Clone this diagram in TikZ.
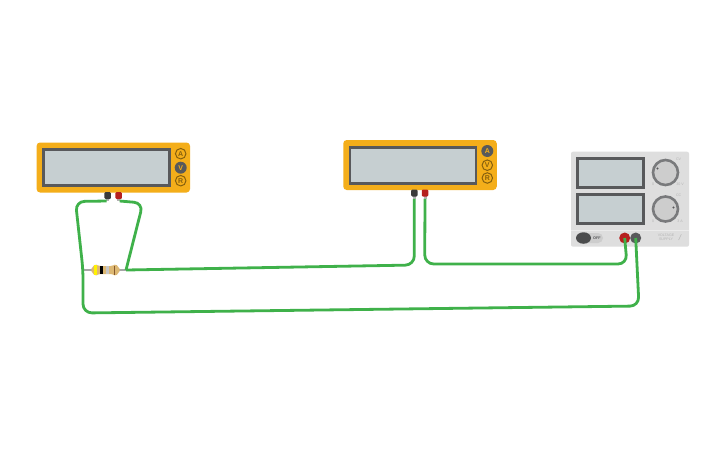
\documentclass[tikz,border=0pt]{standalone}
\usepackage{fontspec}
\usetikzlibrary{shapes.geometric}
\setmainfont{Liberation Sans}
\definecolor{meterbody}{HTML}{F4AE1A}
\definecolor{meterscreen}{HTML}{C6CFD1}
\definecolor{meteredge}{HTML}{58595B}
\definecolor{wiregreen}{HTML}{3FB14A}
\definecolor{probered}{HTML}{B5201E}
\definecolor{probeblack}{HTML}{3A3A3A}
\definecolor{supplybody}{HTML}{DEDEDE}
\definecolor{supplypill}{HTML}{CDCDCD}
\definecolor{supplytext}{HTML}{B4B4B4}
\definecolor{restan}{HTML}{DDB873}
\tikzset{
	every node/.style={inner sep=0pt, outer sep=0pt},
	meter/.style={rectangle, rounded corners=3.5pt, fill=meterbody, minimum width=153.5pt, minimum height=50pt},
	screen/.style={rectangle, fill=meterscreen, draw=meteredge, line width=2.6pt},
	knob/.style={circle, draw=meterbody!55!black, line width=1pt, minimum size=10.5pt, text=meterbody!55!black, font=\fontsize{7}{7}\selectfont\bfseries},
	knobon/.style={circle, fill=meteredge, minimum size=12pt, text=meterbody, font=\fontsize{7}{7}\selectfont\bfseries},
	probe/.style={rectangle, rounded corners=1.2pt, minimum width=6.5pt, minimum height=7pt},
	tip/.style={rectangle, fill=gray!60, minimum width=3pt, minimum height=2.5pt},
	wire/.style={draw=wiregreen, line width=2.8pt, rounded corners=9pt},
	dial/.style={circle, fill=supplypill, draw=meteredge!80!white, line width=2.6pt, minimum size=25pt},
	small/.style={text=supplytext, font=\fontsize{3.6}{4}\selectfont},
	terminal/.style={circle, minimum size=11pt}
}
\begin{document}
\begin{tikzpicture}[x=1pt,y=-1pt]
	\useasboundingbox (0,0) rectangle (725,453);
	\fill[white] (0,0) rectangle (725,453);

	% left meter
	\node (m1) [meter] at (113.3,167.5) {};
	\node (s1) [screen, minimum width=126pt, minimum height=36pt] at (106.3,167.7) {};
	\node (a1) [knob] at (180.7,153.7) {A};
	\node (v1) [knobon] at (180.7,167.7) {V};
	\node (r1) [knob] at (180.7,180.7) {R};
	\node (tb1) [tip] at (107.7,200) {};
	\node (tc1) [tip] at (118.7,200) {};
	\node (b1) [probe, fill=probeblack] at (107.7,195.5) {};
	\node (c1) [probe, fill=probered] at (118.7,195.5) {};

	% middle meter
	\node (m2) [meter] at (420,165) {};
	\node (s2) [screen, minimum width=126pt, minimum height=36pt] at (413,165.2) {};
	\node (a2) [knobon] at (487.3,151) {A};
	\node (v2) [knob] at (487.3,165.2) {V};
	\node (r2) [knob] at (487.3,178) {R};
	\node (tb2) [tip] at (414.3,197.5) {};
	\node (tc2) [tip] at (425,197.5) {};
	\node (b2) [probe, fill=probeblack] at (414.3,193) {};
	\node (c2) [probe, fill=probered] at (425,193) {};

	% supply
	\node (p) [rectangle, rounded corners=2pt, fill=supplybody, minimum width=118pt, minimum height=95pt] at (630,199.2) {};
	\draw[white!92!black, line width=.8pt] (571,230) -- (689,230);
	\node (s3) [screen, minimum width=66pt, minimum height=29pt] at (610.7,172.7) {};
	\node (s4) [screen, minimum width=66pt, minimum height=28.5pt] at (610.7,209) {};
	\node (d1) [dial] at (665.5,172.5) {};
	\node (d2) [dial] at (665.5,209) {};
	\fill[meteredge] (657.5,168.5) circle (1.1pt);
	\fill[meteredge] (673.5,207.5) circle (1.1pt);
	\node (cv) [small, anchor=west] at (676,159.5) {CV};
	\node (cc) [small, anchor=west] at (676,195.5) {CC};
	\node (l1) [small] at (653,184.5) {0};
	\node (h1) [small] at (680,184.5) {30 V};
	\node (l2) [small] at (653,221) {0};
	\node (h2) [small] at (680,221) {3 A};
	\node (pill) [rectangle, rounded corners=5pt, fill=supplypill, minimum width=27pt, minimum height=10pt] at (589.5,238) {};
	\node (tog) [ellipse, fill=meteredge!85!black, minimum width=15pt, minimum height=11.5pt] at (583.5,238) {};
	\node (off) [text=meteredge, font=\fontsize{3.8}{4}\selectfont\bfseries] at (597,238) {OFF};
	\node (vs) [small, align=center] at (666,237.5) {VOLTAGE\\SUPPLY};
	\node (bolt) [text=supplytext, font=\fontsize{8}{8}\selectfont\itshape] at (680,238) {/};
	\node (t1) [terminal, fill=probered] at (624.7,238) {};
	\node (t2) [terminal, fill=meteredge] at (635.7,238) {};

	% resistor
	\coordinate (w1) at (83,270);
	\coordinate (w2) at (126,270);
	\draw[gray!70, line width=1.5pt] (w1) -- (w2);
	\fill[restan, rounded corners=1.5pt] (90.5,270) -- (95,264) -- (99,266) -- (112,266) -- (116,264) -- (120.5,270) -- (116,276) -- (112,274) -- (99,274) -- (95,276) -- cycle;
	\fill[yellow] (94,264.7) rectangle (97,275.3);
	\fill[black] (99.5,266) rectangle (103,274);
	\fill[gray!45] (105.5,266) rectangle (109,274);
	\fill[brown!70!black] (114,265.5) rectangle (115,275);

	% wires
	\coordinate (wb1) at (106.7,201);
	\coordinate (wc1) at (119.7,201);
	\draw[wire] (wb1) -- (75.5,201.5) -- (w1) -- (83,313) -- (639,306) -- (t2.center);
	\draw[wire] (wc1) -- (143,203) -- (w2);
	\draw[wire] (w2) -- (414.3,265) -- (tb2.south);
	\draw[wire] (tc2.south) -- (424.7,264) -- (627,264) -- (t1.center);
\end{tikzpicture}
\end{document}
